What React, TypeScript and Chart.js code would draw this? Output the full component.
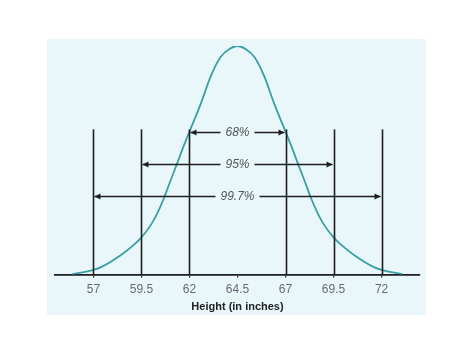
import React, { useEffect, useRef } from 'react';
import { Chart, registerables } from 'chart.js';

Chart.register(...registerables);

// Curve (height in inches vs. relative density, peak = 100)
const curveX = [55.9, 57.0, 57.4, 58.4, 59.1, 59.5, 60.0, 60.35, 60.7, 61.0, 61.35, 61.65, 62.0, 62.6, 63.1, 63.6, 64.1, 64.5, 64.9, 65.4, 65.9, 66.4, 67.0, 67.35, 67.65, 68.0, 68.3, 68.65, 69.0, 69.5, 69.9, 70.6, 71.6, 72.0, 73.1];
const curveY = [0, 2.0, 3.2, 8.3, 12.9, 16.2, 21.8, 27.2, 34.0, 40.8, 48.4, 55.2, 62.5, 75.0, 86.6, 95.0, 98.8, 100, 98.8, 95.0, 86.6, 75.0, 62.5, 55.2, 48.4, 40.8, 34.0, 27.2, 21.8, 16.2, 12.9, 8.3, 3.2, 2.0, 0];

const tickValues = [57, 59.5, 62, 64.5, 67, 69.5, 72];
const tickLabels = ['57', '59.5', '62', '64.5', '67', '69.5', '72'];

const lineValues = [57, 59.5, 62, 67, 69.5, 72];
const lineTop = 63.5;

const rangeLabels = ['68%', '95%', '99.7%'];
const rangeFrom = [62, 59.5, 57];
const rangeTo = [67, 69.5, 72];
const rangeLevel = [62.5, 48.4, 34.4];

const PANEL = '#e9f7fb';
const INK = '#1e1e1e';

const overlay = {
  id: 'overlay',
  beforeDraw(chart: any) {
    const ctx = chart.ctx;
    ctx.save();
    ctx.fillStyle = '#ffffff';
    ctx.fillRect(0, 0, chart.width, chart.height);
    ctx.fillStyle = PANEL;
    ctx.fillRect(47, 39, 379, 276);
    ctx.restore();
  },
  afterDatasetsDraw(chart: any) {
    const ctx = chart.ctx;
    const xs = chart.scales.x;
    const ys = chart.scales.y;
    ctx.save();
    ctx.strokeStyle = INK;
    ctx.fillStyle = INK;
    ctx.lineWidth = 1.6;
    const yTop = ys.getPixelForValue(lineTop);
    const yBot = ys.getPixelForValue(0);
    lineValues.forEach((v) => {
      const x = Math.round(xs.getPixelForValue(v)) + 0.5;
      ctx.beginPath();
      ctx.moveTo(x, yTop);
      ctx.lineTo(x, yBot);
      ctx.stroke();
    });
    ctx.font = 'italic 12px "Liberation Sans", Arial, sans-serif';
    ctx.textAlign = 'center';
    ctx.textBaseline = 'middle';
    rangeLabels.forEach((label, i) => {
      const x1 = xs.getPixelForValue(rangeFrom[i]);
      const x2 = xs.getPixelForValue(rangeTo[i]);
      const y = Math.round(ys.getPixelForValue(rangeLevel[i])) + 0.5;
      const cx = (x1 + x2) / 2;
      const w = ctx.measureText(label).width;
      const gap = w / 2 + 5;
      ctx.lineWidth = 1.3;
      ctx.strokeStyle = INK;
      ctx.beginPath();
      ctx.moveTo(x1 + 1, y);
      ctx.lineTo(cx - gap, y);
      ctx.moveTo(cx + gap, y);
      ctx.lineTo(x2 - 1, y);
      ctx.stroke();
      const hl = 6, hh = 3;
      ctx.beginPath();
      ctx.moveTo(x1 + 1, y);
      ctx.lineTo(x1 + 1 + hl, y - hh);
      ctx.lineTo(x1 + 1 + hl, y + hh);
      ctx.closePath();
      ctx.fill();
      ctx.beginPath();
      ctx.moveTo(x2 - 1, y);
      ctx.lineTo(x2 - 1 - hl, y - hh);
      ctx.lineTo(x2 - 1 - hl, y + hh);
      ctx.closePath();
      ctx.fill();
      ctx.fillStyle = '#555555';
      ctx.fillText(label, cx, y);
      ctx.fillStyle = INK;
    });
    ctx.restore();
  },
};

export default function App() {
  const ref = useRef<HTMLCanvasElement | null>(null);
  useEffect(() => {
    if (!ref.current) return;
    const chart = new Chart(ref.current, {
      type: 'line',
      data: {
        datasets: [
          {
            data: curveX.map((x, i) => ({ x, y: curveY[i] })),
            borderColor: '#3a9ea6',
            borderWidth: 1.8,
            pointRadius: 0,
            fill: false,
            cubicInterpolationMode: 'monotone',
          },
        ],
      },
      options: {
        animation: false,
        responsive: false,
        devicePixelRatio: 1,
        layout: { padding: { top: 46, left: 55, right: 54, bottom: 41 } },
        plugins: { legend: { display: false }, tooltip: { enabled: false } },
        scales: {
          x: {
            type: 'linear',
            min: 55,
            max: 74,
            afterBuildTicks: (scale: any) => {
              scale.ticks = tickValues.map((v) => ({ value: v }));
            },
            grid: {
              display: true,
              drawOnChartArea: false,
              drawTicks: true,
              tickLength: 3,
              color: INK,
              lineWidth: 1.2,
            },
            border: { display: true, color: INK, width: 1.8 },
            ticks: {
              autoSkip: false,
              maxRotation: 0,
              padding: 5,
              color: '#6a6a6a',
              font: { family: '"Liberation Sans", Arial, sans-serif', size: 12 },
              callback: (value: any) => {
                const idx = tickValues.indexOf(Number(value));
                return idx >= 0 ? tickLabels[idx] : '';
              },
            },
            title: {
              display: true,
              text: 'Height (in inches)',
              color: '#222222',
              font: { family: '"Liberation Sans", Arial, sans-serif', size: 11, weight: 'bold' },
              padding: { top: -1, bottom: 0 },
            },
          },
          y: { display: false, min: 0, max: 100 },
        },
      },
      plugins: [overlay],
    } as any);
    return () => chart.destroy();
  }, []);
  return (
    <div style={{ position: 'absolute', left: 0, top: 0, width: 474, height: 355 }}>
      <canvas ref={ref} width={474} height={355} style={{ width: 474, height: 355, display: 'block' }} />
    </div>
  );
}
